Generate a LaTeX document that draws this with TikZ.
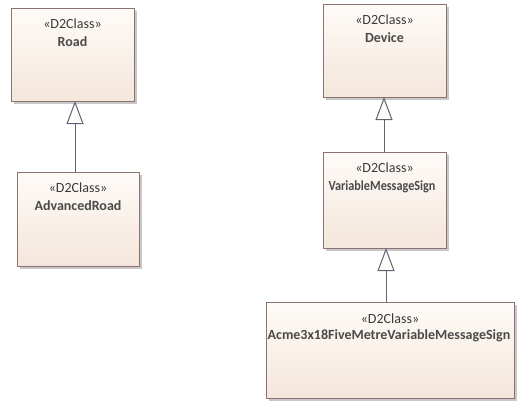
\documentclass[tikz,border=0pt]{standalone}
\usepackage{fontspec}
\usepackage{graphicx}
\setmainfont{Carlito}
\usetikzlibrary{arrows.meta}
\definecolor{boxline}{HTML}{8E7272}
\definecolor{fillA}{HTML}{FEFBF8}
\definecolor{fillB}{HTML}{F4E6DB}
\definecolor{shadowc}{HTML}{C8C8C8}
\definecolor{arrowc}{HTML}{5E6478}
\definecolor{txt}{HTML}{3A3A3A}
\definecolor{txtb}{HTML}{4A4A4A}
\tikzset{
  classbox/.style={draw=boxline, line width=0.9pt, left color=fillA, right color=fillB, shading angle=0},
  shadowbox/.style={fill=shadowc, draw=none},
  stereo/.style={font=\fontsize{14}{16}\selectfont, text=txt, inner sep=0pt},
  cname/.style={font=\bfseries\fontsize{14}{16}\selectfont, text=txtb, inner sep=0pt},
  gen/.style={draw=arrowc, line width=1pt, -{Triangle[open, width=17pt, length=23pt, fill=fillA]}},
}
\begin{document}
\begin{tikzpicture}[x=1pt,y=-1pt]
\useasboundingbox (0,0) rectangle (524,405);
% shadows
\fill[shadowbox] (14,11) rectangle (137,104);
\fill[shadowbox] (20,175) rectangle (142,269);
\fill[shadowbox] (326,7) rectangle (449,100);
\fill[shadowbox] (326,155) rectangle (449,251);
\fill[shadowbox] (269,305) rectangle (517,401);
% boxes
\path[classbox] (11,8) rectangle (134,101);
\coordinate (roadS) at (75,101);
\path[classbox] (17,172) rectangle (139,266);
\coordinate (advN) at (75,172);
\path[classbox] (323,4) rectangle (446,97);
\coordinate (devS) at (384,97);
\path[classbox] (323,152) rectangle (446,248);
\coordinate (vmsN) at (384,152);
\coordinate (vmsS) at (386,248);
\path[classbox] (266,302) rectangle (514,398);
\coordinate (acmeN) at (386,302);
% texts
\node[stereo] (s1) at (72.5,24) {«D2Class»};
\node[cname] (n1) at (72.5,42) {Road};
\node[stereo] (s2) at (78,188) {«D2Class»};
\node[cname] (n2) at (78,206) {AdvancedRoad};
\node[stereo] (s3) at (384.5,20) {«D2Class»};
\node[cname] (n3) at (384.5,38) {Device};
\node[stereo] (s4) at (384.5,168) {«D2Class»};
\node[cname] (n4) at (382,187) {\scalebox{0.87}[1]{VariableMessageSign}};
\node[stereo] (s5) at (390,319) {«D2Class»};
\node[cname] (n5) at (389,336) {Acme3x18FiveMetreVariableMessageSign};
% generalizations
\draw[gen] (advN) -- (roadS);
\draw[gen] (vmsN) -- (devS);
\draw[gen] (acmeN) -- (vmsS);
\end{tikzpicture}
\end{document}
